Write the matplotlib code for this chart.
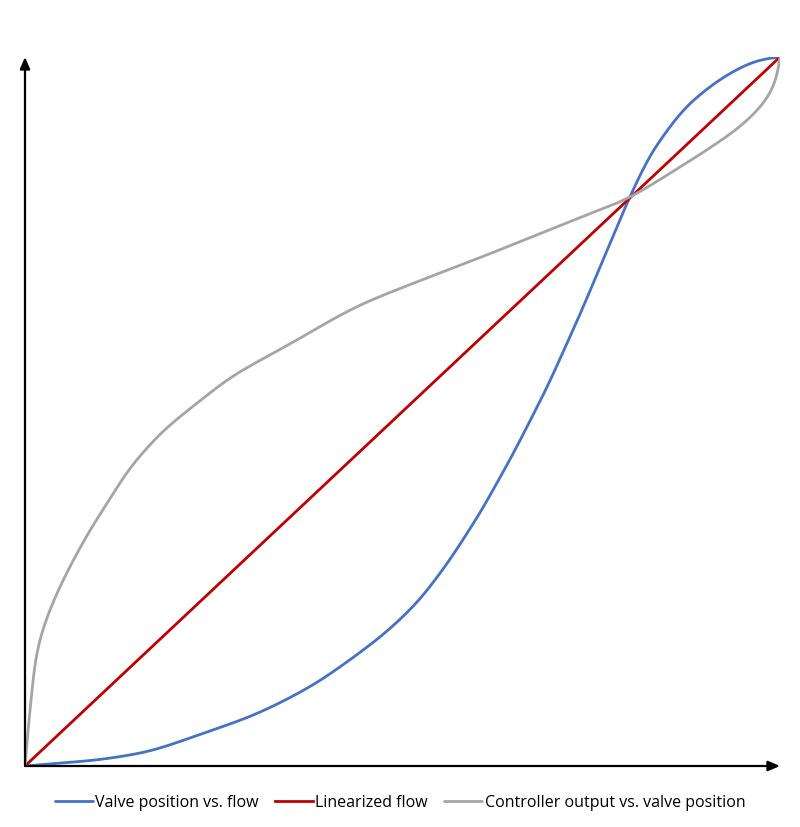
import numpy as np
import matplotlib
matplotlib.use("Agg")
import matplotlib.pyplot as plt

# Values, both axes scaled 0..100
valve_x = [0, 9.9, 16.6, 29.8, 34.2, 38.7, 43.1, 47.5, 52.0, 56.0, 60.3, 64.7, 69.2, 73.6,
           78.0, 80.0, 82.9, 87.3, 91.8, 96.2, 97.8, 100]
valve_y = [0, 0.85, 2.0, 6.9, 9.1, 11.7, 15.0, 18.5, 23.0, 28.6, 35.7, 44.1, 53.5, 63.9,
           75.0, 80.1, 86.5, 92.9, 96.8, 99.4, 100, 100]

linear_x = [0, 100]
linear_y = [0, 100]

ctrl_x = [0, 0.44, 0.89, 1.33, 1.99, 2.88, 4.2, 5.5, 6.4, 8.6, 10.9, 13.9, 18.3, 22.8, 27.2,
          31.6, 36.1, 40.5, 44.8, 52.4, 60.3, 73.6, 80.0, 89.5, 94.8, 98.4, 99.7, 100]
ctrl_y = [0, 5.5, 10.3, 14.9, 18.2, 21.0, 24.4, 27.2, 29.1, 33.3, 37.1, 42.2, 47.4, 51.2, 54.9,
          57.5, 60.1, 62.9, 65.3, 68.5, 71.7, 77.4, 80.0, 86.3, 90.1, 93.9, 96.8, 100]

labels = ["Valve position vs. flow", "Linearized flow", "Controller output vs. valve position"]
colors = ["#4472C4", "#C00000", "#A5A5A5"]


def smooth(x, y, sigma=2.2, step=0.05):
  """Smooth line near the read points: resample along the arc, then a gaussian
  average (ends mirrored so the first and last point stay put)."""
  p = np.column_stack([x, y]).astype(float)
  seg = np.hypot(*np.diff(p, axis=0).T)
  s = np.concatenate([[0], np.cumsum(seg)])
  si = np.arange(0, s[-1], step)
  si = np.append(si, s[-1])
  q = np.column_stack([np.interp(si, s, p[:, 0]), np.interp(si, s, p[:, 1])])
  k = int(4 * sigma / step)
  ker = np.exp(-0.5 * (np.arange(-k, k + 1) * step / sigma) ** 2)
  ker /= ker.sum()
  head = 2 * q[0] - q[k:0:-1]
  tail = 2 * q[-1] - q[-2:-k - 2:-1]
  qp = np.vstack([head, q, tail])
  sx = np.convolve(qp[:, 0], ker, mode="valid")
  sy = np.convolve(qp[:, 1], ker, mode="valid")
  return sx, sy


fig = plt.figure(figsize=(8, 8.27), dpi=100)
W, H = 800, 827
ax = fig.add_axes([25 / W, (H - 766) / H, (780 - 25) / W, (766 - 57) / H])

vx, vy = smooth(valve_x, valve_y)
cx, cy = smooth(ctrl_x, ctrl_y)

ax.plot(vx, vy, color=colors[0], lw=2.0, label=labels[0], solid_capstyle="round")
ax.plot(linear_x, linear_y, color=colors[1], lw=2.0, label=labels[1])
ax.plot(cx, cy, color=colors[2], lw=2.0, label=labels[2], solid_capstyle="round")

ax.set_xlim(0, 100)
ax.set_ylim(0, 100)
for s in ax.spines.values():
  s.set_visible(False)
ax.set_xticks([])
ax.set_yticks([])

# Axis arrows
arrow = dict(arrowstyle="-|>,head_length=0.7,head_width=0.3", color="black", lw=1.6, shrinkA=0, shrinkB=0)
ax.annotate("", xy=(0, 1.0), xytext=(0, 0), xycoords="axes fraction", arrowprops=arrow, annotation_clip=False)
ax.annotate("", xy=(1.0, 0), xytext=(0, 0), xycoords="axes fraction", arrowprops=arrow, annotation_clip=False)

fig.legend(loc="center", bbox_to_anchor=(0.5, (H - 803) / H), ncol=3, frameon=False,
           prop={"family": "Open Sans", "size": 11.5}, handlelength=2.4, handletextpad=0.15,
           columnspacing=1.0)

fig.savefig("out.png", dpi=100)
